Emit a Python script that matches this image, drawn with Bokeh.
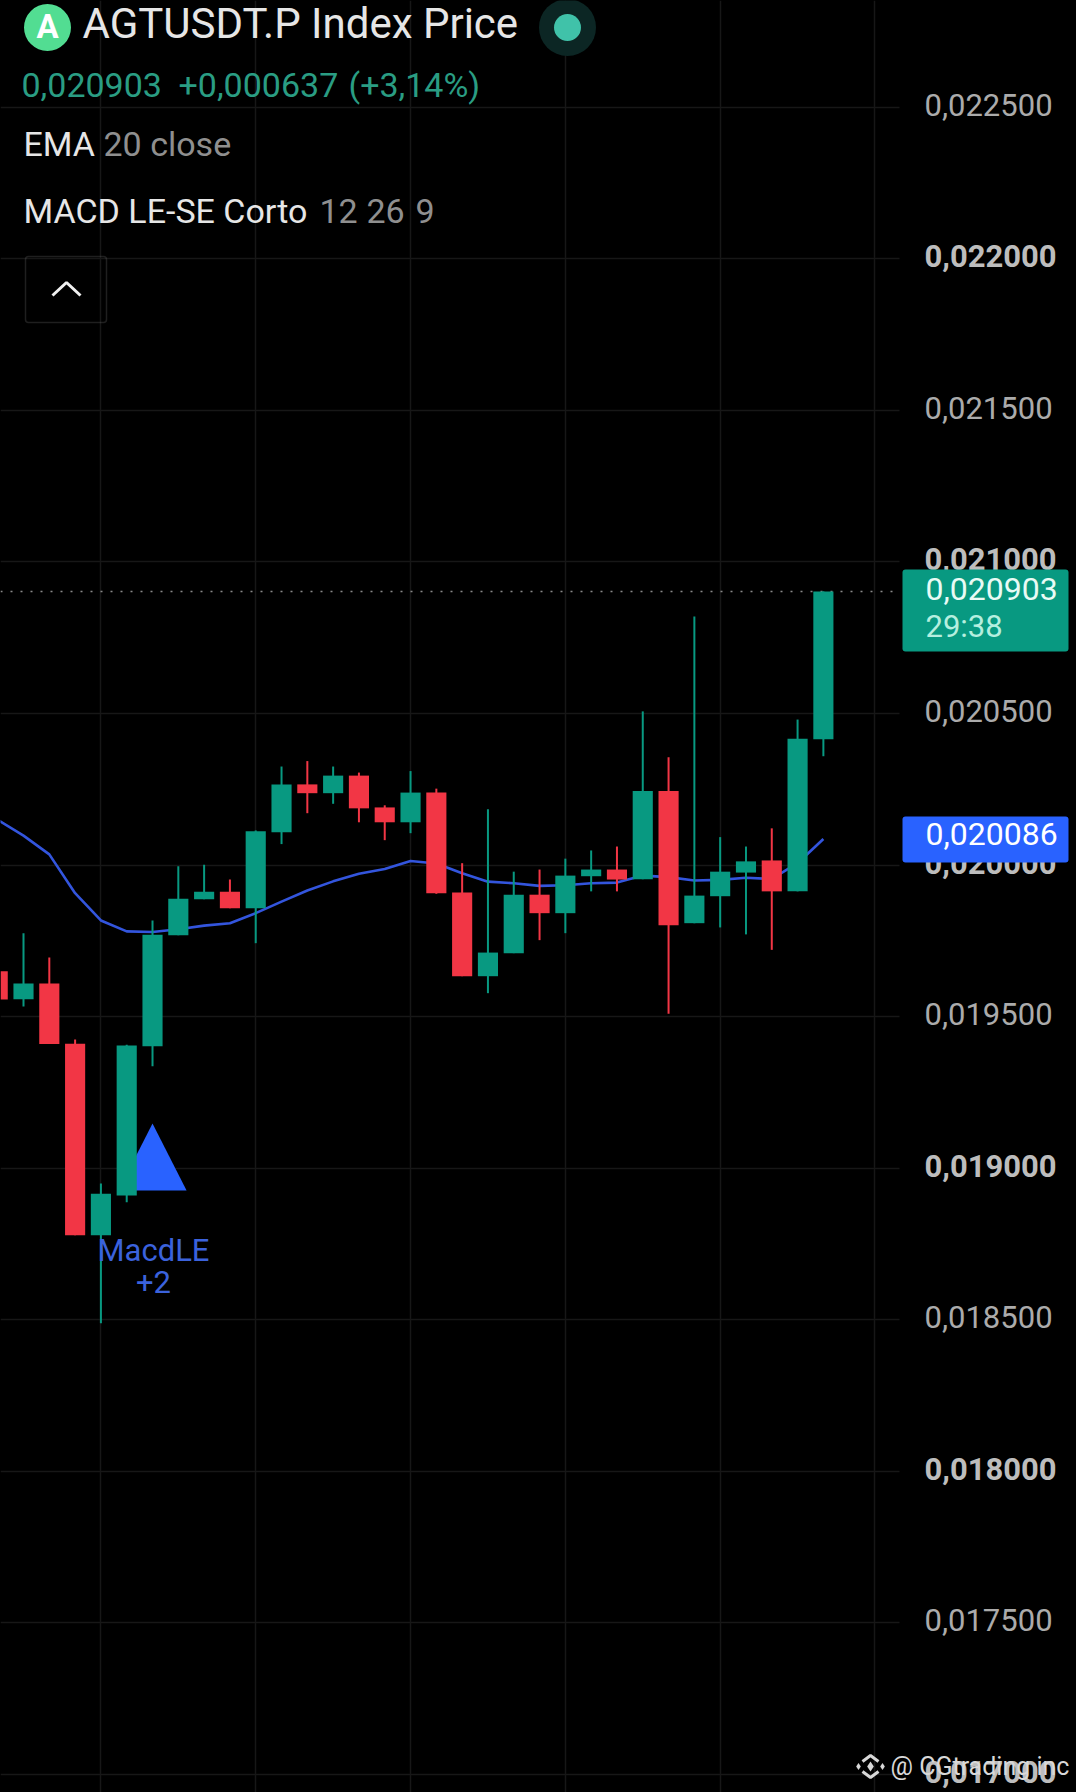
from bokeh.embed import file_html
from bokeh.resources import INLINE
from bokeh.plotting import figure
from bokeh.models import (Range1d, FixedTicker, LinearAxis, CustomJSTickFormatter, Label,
                          BoxAnnotation)

# ---- data, in millionths of a USDT ----
opens = [19649, 19557, 19609, 19410, 18778, 18909, 19402, 19768, 19887, 19912, 19857, 20108, 20266,
         20237, 20295, 20190, 20141, 20239, 19909, 19633, 19709, 19902, 19841, 19963, 19985, 19953,
         20244, 19808, 19897, 19975, 20015, 19913, 20415]
highs = [19649, 19775, 19695, 19424, 18949, 19407, 19817, 19996, 20001, 19952, 20114, 20325, 20343,
         20325, 20305, 20197, 20310, 20252, 20006, 20184, 19978, 19985, 20021, 20048, 20061, 20507,
         20356, 20820, 20092, 20061, 20121, 20480, 20903]
lows = [19556, 19533, 19409, 18778, 18488, 18887, 19336, 19768, 19887, 19857, 19742, 20069, 20171,
        20202, 20141, 20082, 20105, 19905, 19633, 19577, 19709, 19752, 19775, 19913, 19913, 19953,
        19509, 19808, 19794, 19771, 19720, 19913, 20359]
closes = [19556, 19609, 19409, 18778, 18915, 19404, 19770, 19889, 19912, 19857, 20111, 20266, 20237,
          20295, 20187, 20141, 20239, 19907, 19633, 19711, 19902, 19841, 19965, 19985, 19952, 20244,
          19801, 19899, 19978, 20012, 19913, 20417, 20903]
ema20 = [20149, 20097, 20035, 19907, 19817, 19781, 19779, 19788, 19800, 19808, 19841, 19879, 19916,
         19946, 19971, 19987, 20013, 20005, 19973, 19945, 19940, 19931, 19933, 19940, 19942, 19965,
         19960, 19949, 19951, 19958, 19954, 20006, 20086]
signal_index = 6
signal_half_width = 1.32
signal_low, signal_high = 0.018926, 0.019147
last_price = 0.020903
last_ema = 0.020086
regular_ticks = [0.0225, 0.0215, 0.0205, 0.0195, 0.0185, 0.0175]
bold_ticks = [0.022, 0.021, 0.020, 0.019, 0.018, 0.017]
grid_h = [0.0225, 0.022, 0.0215, 0.021, 0.0205, 0.020, 0.0195, 0.019, 0.0185, 0.018, 0.0175, 0.017]
grid_v = [4, 10, 16, 22, 28, 34]

GREEN, RED, BLUE = "#089981", "#f23645", "#2962ff"
W, H = 1076, 1792
PANE_W = 899
Y0, Y1 = 0.0228531, 0.016939
X0, X1 = 0.1085, 41.81
LABEL_SHIFT = 2.5 * (Y0 - Y1) / H
TICK_FORMAT = "return tick.toFixed(6).replace('.', ',')"


def scaled(seq):
    return [v * 1e-6 for v in seq]


def px_x(x):
    return X0 + (X1 - X0) * x / W


def px_y(y):
    return Y0 + (Y1 - Y0) * y / H


o, h, l, c = scaled(opens), scaled(highs), scaled(lows), scaled(closes)
idx = list(range(len(o)))
up = [b >= a for a, b in zip(o, c)]
colors = [GREEN if u else RED for u in up]

p = figure(width=W, height=H, output_backend="svg", toolbar_location=None,
           x_range=Range1d(X0, X1), y_range=Range1d(Y1, Y0),
           x_axis_location=None, y_axis_location=None,
           min_border=0,
           background_fill_color="#000000", border_fill_color="#000000",
           outline_line_color=None)
p.extra_y_ranges = {"tick_labels": Range1d(Y1 - LABEL_SHIFT, Y0 - LABEL_SHIFT)}

p.xgrid.ticker = FixedTicker(ticks=grid_v)
p.ygrid.ticker = FixedTicker(ticks=grid_h)
for g in (p.xgrid[0], p.ygrid[0]):
    g.grid_line_color = "#171717"
    g.grid_line_width = 1.5

# price scale: the axes sit on the right edge and pull their labels back over the pane
for ticks, colour, style in ((regular_ticks, "#ababab", "normal"), (bold_ticks, "#bdbdbd", "bold")):
    p.add_layout(LinearAxis(ticker=FixedTicker(ticks=ticks), y_range_name="tick_labels",
                            formatter=CustomJSTickFormatter(code=TICK_FORMAT),
                            axis_line_color=None, major_tick_line_color=None,
                            minor_tick_line_color=None, major_label_standoff=-158,
                            major_label_text_color=colour, major_label_text_font="Roboto",
                            major_label_text_font_size="31px",
                            major_label_text_font_style=style), "right")

# black scale background hides the grid to the right of the candle pane
p.quad(left=[px_x(PANE_W)], right=[X1], top=[Y0], bottom=[Y1], fill_color="#000000", line_color=None)

# header logo and status dot
p.scatter([px_x(567)], [px_y(27)], marker="circle", size=57, fill_color="#0c2624", line_color=None)
p.scatter([px_x(567)], [px_y(27)], marker="circle", size=27, fill_color="#40c2a9", line_color=None)
p.scatter([px_x(47)], [px_y(27)], marker="circle", size=47, fill_color="#52dd92", line_color=None)

# last-price dotted line
p.segment([X0], [last_price], [px_x(PANE_W)], [last_price], line_color="#8a8a8a",
          line_width=1.5, line_dash="2 8")

# signal triangle, EMA, candles
p.patch([signal_index - signal_half_width, signal_index, signal_index + signal_half_width],
        [signal_low, signal_high, signal_low], fill_color=BLUE, line_color=None)
p.line(idx, scaled(ema20), line_color="#3355dd", line_width=2.6)
p.segment(idx, l, idx, h, line_color=colors, line_width=2)
p.vbar(idx, 0.78, [min(a, b) for a, b in zip(o, c)], [max(a, b) for a, b in zip(o, c)],
       fill_color=colors, line_color=None)

# watermark logo
p.scatter([px_x(870), px_x(858), px_x(882)], [px_y(1766)] * 3, marker="diamond",
          size=[10, 7, 7], fill_color="#d8d8d8", line_color=None)
p.line([px_x(862), px_x(870), px_x(878)], [px_y(1761), px_y(1755), px_y(1761)],
       line_color="#d8d8d8", line_width=3)
p.line([px_x(862), px_x(870), px_x(878)], [px_y(1771), px_y(1777), px_y(1771)],
       line_color="#d8d8d8", line_width=3)

# collapse button chevron
p.line([px_x(52), px_x(66), px_x(80)], [px_y(295), px_y(282), px_y(295)],
       line_color="#f0f0f0", line_width=3)


def label(text, x, y, color, size, style="normal", align="left"):
    p.add_layout(Label(x=x, y=H - y + 0.39 * size, x_units="screen", y_units="screen", text=text,
                       text_color=color, text_font="Roboto", text_font_size=f"{size}px",
                       text_font_style=style, text_align=align, text_baseline="alphabetic"))


def box(left, right, top, bottom, **kw):
    p.add_layout(BoxAnnotation(left=left, right=right, top=H - top, bottom=H - bottom,
                               left_units="screen", right_units="screen", top_units="screen",
                               bottom_units="screen", border_radius=3, **kw))


# last price and EMA tags
box(902, 1068, 569, 651, fill_color=GREEN, fill_alpha=1, line_color=None)
box(902, 1068, 816, 862, fill_color=BLUE, fill_alpha=1, line_color=None)
label(f"{last_price:.6f}".replace(".", ","), 925, 601, "#e8fbf5", 32)
label("29:38", 925, 638, "#b5efdf", 31)
label(f"{last_ema:.6f}".replace(".", ","), 925, 846, "#ffffff", 32)

# header
label("A", 47, 39, "#ffffff", 33, "bold", "center")
label("AGTUSDT.P Index Price", 82, 39, "#e6e6e6", 42)
label("0,020903", 21, 98, "#2a9d83", 34)
label("+0,000637", 178, 98, "#2a9d83", 34)
label("(+3,14%)", 348, 98, "#2a9d83", 34)
label("EMA", 23, 157, "#e6e6e6", 34)
label("20 close", 103, 157, "#8f8f8f", 34)
label("MACD LE-SE Corto", 23, 224, "#e6e6e6", 34)
label("12", 319, 224, "#8f8f8f", 34)
label("26", 366, 224, "#8f8f8f", 34)
label("9", 415, 224, "#8f8f8f", 34)
box(25, 106, 256, 322, fill_alpha=0, line_color="#666666", line_width=1.5)

# signal text
label("MacdLE", 153, 1262, "#3b62dc", 31, "normal", "center")
label("+2", 153, 1294, "#3b62dc", 31, "normal", "center")

# watermark text
label("@ CGtrading inc", 890, 1776, "#d8d8d8", 25)

TEMPLATE = "{% block postamble %}<style>html,body{margin:0;padding:0;background:#000}</style>{% endblock %}"
open("out.html", "w").write(file_html(p, INLINE, template=TEMPLATE))
